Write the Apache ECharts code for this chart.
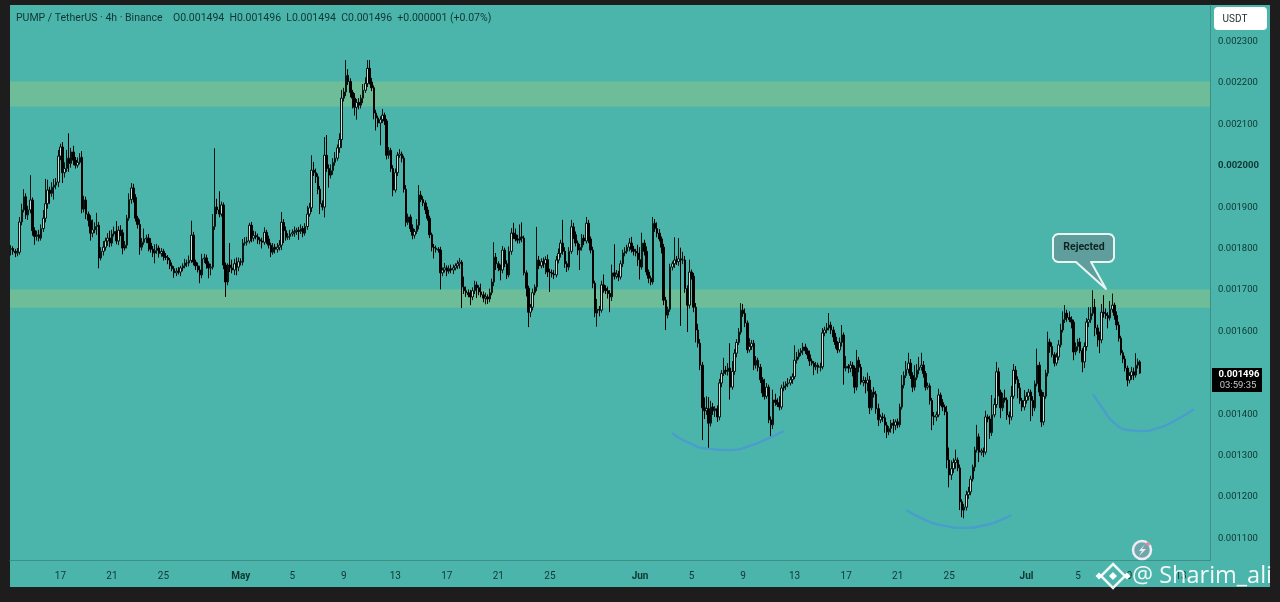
<!DOCTYPE html>
<html><head><meta charset="utf-8">
<style>
html,body{margin:0;padding:0;background:#1d1d1d;width:1280px;height:602px;overflow:hidden}
#pane{position:absolute;left:10px;top:5px;width:1260px;height:582px;background:#4cb5ab}
#c{position:absolute;left:0;top:0;width:1280px;height:602px;filter:blur(0.35px)}
</style>
<script src="https://cdn.jsdelivr.net/npm/echarts@6/dist/echarts.min.js"></script>
</head><body><div id="pane"></div><div id="c"></div>
<script>
// Prices are in millionths of USDT. One candle = 4h, first candle 13 Apr 04:00.
const closes = [
1797,1790,1786,1788,1861,1890,1922,1878,1890,1914,
1840,1826,1830,1822,1845,1870,1905,1938,1930,1945,
1950,1957,2020,2042,1980,1990,2015,2002,2030,2010,
1998,2005,2017,1892,1914,1880,1865,1834,1842,1850,
1853,1774,1790,1800,1815,1822,1810,1832,1838,1815,
1841,1835,1798,1805,1870,1915,1943,1920,1870,1855,
1800,1812,1820,1822,1810,1795,1786,1792,1798,1785,
1790,1778,1775,1769,1755,1748,1738,1742,1740,1750,
1755,1762,1762,1768,1829,1764,1755,1745,1733,1772,
1774,1760,1750,1752,1850,1897,1890,1880,1902,1757,
1716,1757,1750,1745,1760,1752,1765,1764,1810,1812,
1815,1853,1822,1828,1825,1818,1815,1812,1836,1820,
1805,1788,1800,1795,1800,1805,1860,1840,1824,1826,
1832,1835,1838,1841,1838,1845,1834,1850,1880,1895,
1986,1980,1970,1940,1905,1897,2022,1990,1974,1985,
2005,2015,2040,2060,2160,2175,2215,2200,2174,2160,
2138,2150,2143,2160,2179,2195,2232,2199,2185,2124,
2112,2100,2108,2119,2105,2022,2034,1990,1938,1980,
2022,2025,2015,1940,1860,1873,1845,1829,1838,1853,
1926,1915,1907,1890,1870,1830,1800,1798,1795,1793,
1738,1745,1750,1742,1748,1745,1750,1755,1760,1764,
1704,1695,1690,1685,1680,1695,1709,1702,1692,1685,
1677,1680,1675,1690,1716,1776,1760,1750,1745,1793,
1760,1733,1790,1834,1830,1820,1817,1825,1822,1738,
1701,1643,1655,1690,1704,1769,1755,1765,1760,1770,
1740,1738,1735,1733,1769,1785,1810,1790,1760,1752,
1790,1849,1830,1810,1793,1800,1822,1815,1858,1820,
1793,1713,1641,1650,1648,1709,1700,1695,1688,1680,
1738,1730,1735,1728,1760,1786,1790,1800,1810,1795,
1790,1786,1770,1752,1810,1790,1740,1725,1716,1858,
1845,1834,1820,1800,1672,1636,1650,1752,1760,1769,
1765,1772,1769,1769,1700,1660,1740,1730,1655,1600,
1568,1515,1412,1405,1410,1375,1414,1405,1410,1390,
1472,1495,1503,1500,1508,1462,1500,1544,1570,1595,
1648,1640,1617,1552,1560,1568,1515,1527,1510,1480,
1448,1440,1462,1383,1371,1431,1425,1420,1414,1460,
1465,1470,1472,1480,1487,1527,1535,1545,1550,1559,
1550,1540,1525,1520,1511,1515,1510,1511,1593,1600,
1605,1612,1600,1583,1565,1552,1570,1588,1508,1512,
1508,1515,1508,1462,1527,1510,1474,1478,1472,1479,
1412,1450,1445,1410,1383,1390,1388,1370,1354,1362,
1375,1370,1378,1371,1414,1467,1490,1505,1520,1490,
1462,1485,1503,1510,1515,1495,1462,1465,1430,1392,
1390,1395,1443,1425,1414,1402,1286,1250,1265,1280,
1286,1267,1185,1165,1172,1202,1209,1240,1269,1310,
1342,1305,1308,1305,1390,1385,1352,1395,1420,1499,
1450,1412,1436,1431,1395,1390,1440,1503,1480,1460,
1430,1414,1430,1440,1450,1430,1412,1470,1515,1450,
1378,1440,1496,1571,1560,1540,1520,1535,1564,1600,
1625,1641,1630,1625,1619,1547,1560,1571,1550,1523,
1560,1619,1625,1640,1655,1605,1590,1576,1643,1640,
1635,1629,1650,1660,1635,1612,1580,1545,1530,1508,
1479,1490,1499,1491,1515,1523,1496];
const upperWicks = [
8,5,6,10,12,15,18,8,10,60,
6,8,10,12,10,20,60,25,8,12,
15,10,15,8,12,15,20,60,10,15,
8,12,10,15,10,8,6,12,25,10,
30,8,10,15,8,12,18,10,12,25,
10,12,8,10,8,15,12,10,8,6,
12,10,25,8,10,12,8,15,10,6,
8,6,8,6,5,8,6,8,10,5,
6,10,8,12,35,8,6,8,10,12,
10,8,6,8,30,142,20,45,8,6,
6,4,53,20,12,15,10,8,10,12,
10,6,8,12,10,8,6,8,12,6,
8,6,10,8,10,12,25,8,10,8,
10,8,12,6,8,10,6,8,20,12,
36,20,10,8,8,8,44,49,10,15,
10,15,8,15,20,10,37,15,8,6,
12,8,10,8,15,15,20,20,10,6,
8,6,8,15,6,5,8,6,8,10,
8,12,6,6,10,8,6,10,6,15,
24,10,8,6,8,6,5,8,6,5,
8,6,12,6,8,10,8,6,8,10,
5,25,10,8,12,8,10,8,6,20,
8,10,6,10,8,36,10,6,8,10,
6,8,12,12,25,15,10,30,35,6,
6,6,8,10,6,80,10,8,10,8,
12,8,8,10,10,12,8,56,10,6,
10,17,10,8,6,8,10,8,15,8,
6,8,6,25,8,10,25,8,10,8,
20,69,10,8,8,8,10,6,12,15,
8,6,20,30,25,8,12,6,6,15,
10,15,10,6,8,8,6,8,6,55,
10,50,27,20,10,8,30,6,8,10,
15,10,8,25,30,28,15,10,6,8,
10,8,30,10,12,60,25,10,8,10,
17,15,12,6,20,8,8,10,6,8,
6,34,10,6,8,25,15,10,20,8,
10,6,12,8,8,36,12,8,6,10,
8,6,10,6,5,8,6,10,12,8,
12,29,8,8,10,8,12,24,6,25,
6,10,8,6,25,8,8,10,8,18,
10,6,12,8,12,6,10,8,8,6,
8,10,6,8,8,24,10,20,25,10,
8,30,15,25,30,10,6,8,6,6,
10,8,15,6,8,6,15,30,20,10,
25,6,8,6,8,10,12,8,6,8,
29,8,6,8,15,6,8,48,15,24,
10,6,12,20,6,8,25,15,10,8,
12,6,25,10,8,6,10,8,40,8,
6,10,8,25,8,10,6,10,12,15,
20,19,8,15,8,6,10,8,10,6,
10,10,30,15,41,20,8,6,20,41,
12,8,20,28,6,10,8,6,6,8,
6,8,12,10,29,8,4];
const lowerWicks = [
15,8,10,8,6,8,6,10,12,8,
12,20,10,8,6,8,10,12,25,8,
30,10,12,10,25,12,8,20,10,12,
8,6,5,10,8,12,15,18,10,8,
20,25,6,10,8,12,10,8,6,8,
10,8,15,6,8,6,10,12,8,10,
18,8,6,10,20,8,10,25,8,10,
8,10,6,10,8,6,12,8,6,10,
8,6,10,8,6,8,10,6,20,8,
10,12,25,18,6,8,10,8,6,10,
36,8,10,8,12,20,10,8,8,6,
8,6,10,8,6,10,8,15,6,12,
8,12,6,10,8,8,12,30,8,6,
8,6,10,8,20,6,10,6,8,6,
10,8,15,12,25,8,25,8,30,8,
10,8,6,12,20,8,10,8,12,25,
20,30,10,8,12,6,8,6,8,15,
30,10,54,8,10,10,8,8,15,6,
8,6,10,8,10,6,8,10,8,6,
10,6,8,10,6,8,10,25,8,6,
40,8,6,12,6,8,10,6,8,12,
51,8,10,6,20,8,8,25,8,6,
10,15,12,8,6,10,15,8,25,8,
8,10,6,8,10,6,8,8,10,6,
20,36,12,8,6,10,8,6,10,25,
12,46,8,10,6,8,10,8,10,12,
8,6,10,8,12,48,8,10,6,10,
8,12,10,33,15,6,10,8,12,37,
10,8,6,10,6,8,8,6,10,8,
10,8,15,30,6,10,8,12,8,6,
8,10,6,15,12,36,8,6,8,10,
8,10,159,10,10,65,8,8,12,30,
10,12,78,20,10,60,8,10,15,12,
8,10,6,8,10,30,6,8,10,6,
6,8,10,8,6,8,12,8,10,8,
10,8,6,8,32,10,8,6,8,6,
8,10,8,6,10,6,8,6,8,10,
8,10,12,6,20,8,15,10,6,8,
8,6,10,12,10,8,6,10,40,8,
12,10,20,15,8,12,6,10,25,20,
15,6,8,12,15,8,10,18,15,8,
10,20,12,8,6,6,8,6,10,8,
12,8,6,10,8,10,8,6,10,34,
20,10,6,8,10,8,20,30,12,10,
15,8,20,17,20,8,10,8,6,10,
6,24,8,12,6,8,15,8,6,8,
10,25,8,6,12,18,8,6,10,25,
8,10,8,8,10,50,20,8,6,10,
12,8,6,8,15,6,8,6,8,6,
6,8,10,6,15,20,8,10,6,25,
15,10,12,8,6,20,30,32,8,10,
8,25,6,8,10,12,8,6,10,8,
15,8,10,12,6,8,2];
const firstOpen = 1795;
const totalSlots = 559;            // candles plus empty space to the right
const priceTicks = [1100,1200,1300,1400,1500,1600,1700,1800,1900,2000,2100,2200,2300];
const dayTicks = ['04-17','04-21','04-25','05-01','05-05','05-09','05-13','05-17','05-21','05-25','06-01','06-05','06-09','06-13','06-17','06-21','06-25','07-01','07-05','07-09','07-13'];
const dayLabels = ['17','21','25','May','5','9','13','17','21','25','Jun','5','9','13','17','21','25','Jul','5','9','13'];
const zoneTop = [2200,2140];
const zoneMid = [1698,1654];
const arcA = [[308,1351],[316,1327],[325,1313],[335,1310],[344,1320],[353,1339],[360,1356]];
const arcB = [[417,1165],[426,1141],[435,1127],[444,1122],[454,1129],[461,1141],[466,1153]];
const arcC = [[504,1445],[509,1407],[514,1375],[521,1358],[527,1356],[533,1361],[540,1375],[551,1409]];
const titleText = 'PUMP / TetherUS · 4h · Binance    O0.001494  H0.001496  L0.001494  C0.001496  +0.000001 (+0.07%)';
const lastPrice = '0.001496', countdown = '03:59:35';

if (closes.length !== upperWicks.length || closes.length !== lowerWicks.length) throw new Error('length mismatch '+closes.length+' '+upperWicks.length+' '+lowerWicks.length);

const categories = [];
const tickMap = {};
dayTicks.forEach((d,i)=>tickMap[d+' 00']=dayLabels[i]);
for (let i=0;i<totalSlots;i++){
  const d=new Date(Date.UTC(2025,3,13,4+4*i));
  const p=n=>String(n).padStart(2,'0');
  categories.push(p(d.getUTCMonth()+1)+'-'+p(d.getUTCDate())+' '+p(d.getUTCHours()));
}
const ohlc = closes.map((c,i)=>{
  const o = i? closes[i-1] : firstOpen;
  return [o,c,Math.min(o,c)-lowerWicks[i],Math.max(o,c)+upperWicks[i]];
});
const arcSeries = a => ({type:'line',data:a.map(p=>[categories[p[0]],p[1]]),smooth:0.6,symbol:'none',silent:true,z:3,
  lineStyle:{color:'#4a9ecb',width:2.4}});

const chart = echarts.init(document.getElementById('c'),null,{renderer:'canvas'});
const ink='#0f3633';
const font='Roboto, "Open Sans", sans-serif';
chart.setOption({
  animation:false,
  backgroundColor:'transparent',
  textStyle:{fontFamily:font},
  title:{text:titleText,left:16,top:13,padding:0,textStyle:{color:ink,fontSize:10.5,fontWeight:'normal',fontFamily:font}},
  grid:{left:10,right:70,top:5,bottom:42,containLabel:false},
  xAxis:{type:'category',data:categories,boundaryGap:true,
    axisLine:{lineStyle:{color:'#3d8f88',width:1}},axisTick:{show:false},splitLine:{show:false},
    axisLabel:{interval:(i,v)=>tickMap[v]!==undefined,margin:11,color:ink,fontSize:10,
      formatter:v=>{const t=tickMap[v]; return /[A-Z]/.test(t)?'{b|'+t+'}':t;},
      rich:{b:{fontWeight:'bold',color:ink,fontSize:10}}}},
  yAxis:{type:'value',position:'right',min:1044.5,max:2385,scale:true,
    axisLine:{show:true,lineStyle:{color:'#3d8f88',width:1}},axisTick:{show:false},splitLine:{show:false},
    axisLabel:{customValues:priceTicks,inside:false,margin:8,color:ink,fontSize:9.5,padding:[3,0,0,0],
      formatter:v=>{const t=(v/1e6).toFixed(6); return v===2000?'{b|'+t+'}':t;},
      rich:{b:{fontWeight:'bold',color:ink,fontSize:9.5}}}},
  series:[
    {type:'candlestick',data:ohlc,barWidth:2,z:2,silent:true,large:false,
      itemStyle:{color:'#bfe3dd',color0:'#000000',borderColor:'#07140f',borderColor0:'#000000',borderWidth:1},
      markArea:{silent:true,z:1,itemStyle:{color:'#6dbd99',opacity:1},
        data:[[{yAxis:zoneTop[0]},{yAxis:zoneTop[1]}],[{yAxis:zoneMid[0]},{yAxis:zoneMid[1]}]]}},
    arcSeries(arcA),arcSeries(arcB),arcSeries(arcC)
  ],
  graphic:[
    {type:'rect',z:50,shape:{x:1214,y:7,width:53,height:23,r:4},style:{fill:'#ffffff'}},
    {type:'text',z:51,style:{x:1235,y:19,text:'USDT',fill:'#1f2b2b',font:'10px '+font,textAlign:'center',textVerticalAlign:'middle'}},
    {type:'rect',z:50,shape:{x:1212,y:368,width:50,height:24},style:{fill:'#000000'}},
    {type:'text',z:51,style:{x:1239,y:375,text:lastPrice,fill:'#ffffff',font:'bold 9.5px '+font,textAlign:'center',textVerticalAlign:'middle'}},
    {type:'text',z:51,style:{x:1238,y:386,text:countdown,fill:'#c8c8c8',font:'9.5px '+font,textAlign:'center',textVerticalAlign:'middle'}},
    {type:'polygon',z:50,shape:{points:[[1058,234],[1109,234],[1112,235],[1114,238],[1114,258],[1112,261],[1109,262],[1091,262],[1106,289],[1076,262],[1058,262],[1055,261],[1053,258],[1053,238],[1055,235]]},
      style:{fill:'#5f9e9c',stroke:'#e8f6f3',lineWidth:2,lineJoin:'round'}},
    {type:'text',z:51,style:{x:1084,y:247.5,text:'Rejected',fill:'#0c2524',font:'bold 10.5px '+font,textAlign:'center',textVerticalAlign:'middle'}},
    {type:'circle',z:60,shape:{cx:1142,cy:550,r:9},style:{fill:'#6ea8ad',stroke:'#f1ecf3',lineWidth:2.5}},
    {type:'polygon',z:61,shape:{points:[[1145,544],[1139,551],[1142,551],[1139,556],[1146,549],[1142,549]]},style:{fill:'#f1ecf3'}},
    {type:'circle',z:62,shape:{cx:1148,cy:544,r:2},style:{fill:'#d98aa6'}},
    {type:'polygon',z:60,shape:{points:[[1113,564],[1125,576],[1113,588],[1101,576]]},style:{fill:'transparent',stroke:'#ffffff',lineWidth:2.5,opacity:0.9}},
    {type:'polygon',z:60,shape:{points:[[1113,572],[1117,576],[1113,580],[1109,576]]},style:{fill:'#ffffff'}},
    {type:'polygon',z:60,shape:{points:[[1099,572.5],[1102.5,576],[1099,579.5],[1095.5,576]]},style:{fill:'#ffffff'}},
    {type:'polygon',z:60,shape:{points:[[1127,572.5],[1130.5,576],[1127,579.5],[1123.5,576]]},style:{fill:'#ffffff'}},
    {type:'text',z:60,style:{x:1132,y:576,text:'@ Sharim_ali',fill:'#ffffff',opacity:0.92,font:'23.5px "Open Sans", sans-serif',textVerticalAlign:'middle'}}
  ]
});
</script></body></html>
